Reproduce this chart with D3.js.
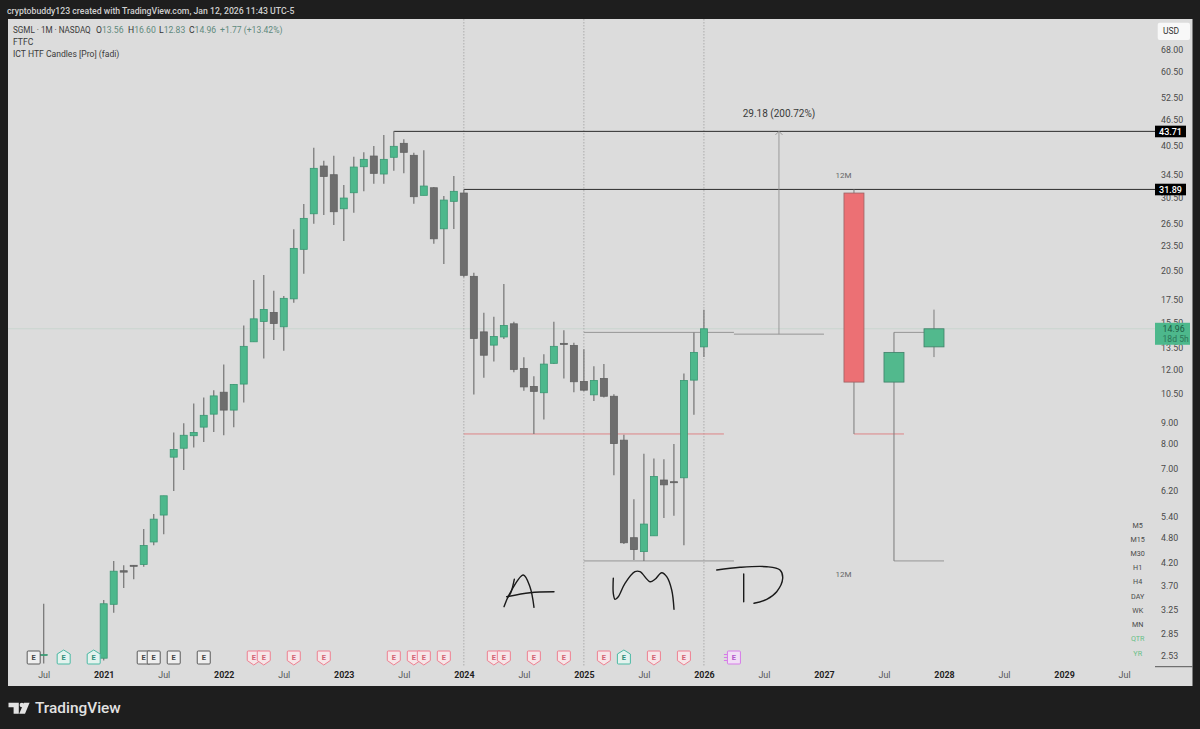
<!DOCTYPE html>
<html><head><meta charset="utf-8">
<style>
html,body{margin:0;padding:0;background:#1e1e1e;overflow:hidden}
svg{display:block}
text{font-family:Roboto,"Open Sans",sans-serif}
</style>
<script src="https://cdn.jsdelivr.net/npm/d3@7"></script>
</head><body><svg id="c" width="1200" height="729"></svg>
<script>
// ---------- DATA ----------
const months = [-6].concat(d3.range(0, 61)); // months since Jan 2021
const opens  = [2.55, 2.50,3.35,4.02,4.14,4.16,4.70,5.44,7.45,7.82,8.37,8.77,9.41, 10.60,9.62,11.08,13.94,15.57,16.35,15.12,17.60,23.03,27.94,36.21,34.54, 28.71,31.32,36.07,38.23,34.67,37.97,40.96,38.38,30.88,32.18,25.75,29.89, 31.27,19.89,14.71,13.69,14.31,15.37,12.06,10.94,10.57,12.40,13.82,13.67, 11.24,10.45,11.42,10.37,8.17,4.81,4.46,4.86,6.58,6.52,6.66,11.32, 13.56];
const highs  = [3.36, 3.43,4.24,4.14,4.15,5.04,5.47,6.04,8.52,8.95,9.97,10.30,10.72, 12.33,11.08,15.23,19.49,20.03,18.39,17.87,25.67,29.45,39.99,37.27,38.30, 32.66,38.09,39.01,40.36,42.85,43.71,41.86,38.93,39.44,32.30,30.76,34.29, 31.89,20.28,16.33,15.97,19.07,15.54,12.81,11.56,13.03,15.54,14.85,13.87, 13.39,12.21,12.35,10.49,8.41,5.93,7.59,7.40,7.37,8.00,11.74,14.67, 16.60];
const lows   = [2.43, 2.47,3.20,3.66,3.84,4.11,4.62,4.90,6.20,6.95,7.85,8.09,8.54, 8.39,8.76,10.02,13.94,12.73,14.07,13.27,17.23,20.17,26.46,27.75,26.28, 24.09,28.10,31.56,32.89,32.89,35.29,34.80,29.50,30.88,23.74,21.26,25.71, 19.78,10.47,11.46,12.53,14.16,11.82,10.68,8.45,9.14,12.35,11.42,10.60, 10.66,10.11,10.30,6.75,4.65,4.26,4.24,4.86,5.35,5.42,4.62,9.38, 12.83];
const closes = [2.55, 3.36,4.01,3.99,4.12,4.61,5.32,6.04,7.77,8.39,8.52,9.35,10.39, 9.62,11.06,13.60,15.79,16.62,15.40,17.65,23.15,27.25,35.76,34.23,28.25, 30.43,36.01,37.55,34.80,37.55,40.30,39.01,30.65,32.48,24.39,30.10,31.56, 20.00,14.20,12.96,14.35,15.23,12.00,10.91,10.65,12.35,13.60,13.77,11.22, 10.72,11.30,10.37,8.02,4.68,4.51,5.18,6.71,6.41,6.49,11.30,13.16, 14.96];

const htfMonths = [75, 79, 83];
const htfOpens  = [31.27, 11.20, 13.56];
const htfHighs  = [31.89, 14.67, 16.60];
const htfLows   = [8.45, 4.24, 12.83];
const htfCloses = [11.20, 13.16, 14.96];

const priceTicks = [68,60.5,52.5,46.5,40.5,34.5,30.5,26.5,23.5,20.5,17.5,15.5,13.5,12,10.5,9,8,7,6.2,5.4,4.8,4.2,3.7,3.25,2.85,2.53];
const timeTicks  = d3.range(-6, 103, 6);
const timeLabels = ["Jul","2021","Jul","2022","Jul","2023","Jul","2024","Jul","2025","Jul","2026","Jul","2027","Jul","2028","Jul","2029","Jul"];

const sessionMonths = [36, 48, 60];
const levelFrom = [48, 63, 36, 75, 48, 79, 79];
const levelTo   = [63, 72, 62, 80, 63, 84, 83];
const levelVal  = [14.67, 14.53, 8.45, 8.45, 4.24, 4.24, 14.67];
const levelKind = ["gray","gray","red","red","gray","gray","gray"];

const extremes = [43.71, 31.89];
const extremeFrom = [29, 36];
const lastPrice = 14.96;
const countdown = "18d 5h";

const measure = {month: 67.5, from: 14.53, to: 43.71, label: "29.18 (200.72%)"};

const earningsNeutral = [-7, 4, 5, 7, 10];
const earningsBeat    = [-4, -1, 52];
const earningsMiss    = [15, 16, 19, 22, 29, 31, 32, 34, 39, 40, 43, 46, 50, 55, 58];
const earningsNext    = [63];

const timeframes = ["M5","M15","M30","H1","H4","DAY","WK","MN","QTR","YR"];

const titleText = "cryptobuddy123 created with TradingView.com, Jan 12, 2026 11:43 UTC-5";
const legendOHLC = [["O","13.56"],["H","16.60"],["L","12.83"],["C","14.96"]];

// ---------- LAYOUT ----------
const pane = {l: 8, t: 19, r: 1192.5, b: 686};
const axisX = 1155, axisY = 666.7;
const C = {bg:"#1e1e1e", pane:"#dcdcdc", up:"#4db88c", upB:"#3a9873", dn:"#6e6e6e", wick:"#7b7b7b",
           red:"#ec7074", redB:"#9b6264", lvl:"#969696", redLvl:"#dd8587", black:"#2b2b2b"};

const x = d3.scaleLinear().domain([0, 84]).range([103.7, 944]);
const y = d3.scaleLog().domain([68, 2.53]).range([50, 656]);
const mw = x(1) - x(0);

const svg = d3.select("#c");
svg.append("rect").attr("width",1200).attr("height",729).attr("fill",C.bg);
svg.append("rect").attr("x",pane.l).attr("y",pane.t).attr("width",pane.r-pane.l).attr("height",pane.b-pane.t).attr("fill",C.pane);

// title
svg.append("text").attr("x",7).attr("y",14).attr("fill","#cfcfcf").style("font-size","8.7px").style("font-weight",500).text(titleText);

// price line
svg.append("line").attr("x1",pane.l).attr("x2",axisX).attr("y1",y(lastPrice)).attr("y2",y(lastPrice)).attr("stroke","#c9d5cf");

// session separators
svg.selectAll("line.sep").data(sessionMonths).join("line").attr("class","sep")
  .attr("x1",d=>x(d)).attr("x2",d=>x(d)).attr("y1",pane.t).attr("y2",axisY)
  .attr("stroke","#adadad").attr("stroke-dasharray","1.5 1.5");

// levels
svg.selectAll("line.lvl").data(levelVal).join("line").attr("class","lvl")
  .attr("x1",(d,i)=>x(levelFrom[i])).attr("x2",(d,i)=>x(levelTo[i]))
  .attr("y1",d=>y(d)).attr("y2",d=>y(d))
  .attr("stroke",(d,i)=>levelKind[i]==="red"?C.redLvl:C.lvl).attr("stroke-width",1);

// extreme levels
svg.selectAll("line.ext").data(extremes).join("line").attr("class","ext")
  .attr("x1",(d,i)=>x(extremeFrom[i])).attr("x2",axisX)
  .attr("y1",d=>y(d)).attr("y2",d=>y(d)).attr("stroke",C.black).attr("stroke-width",1);

// measure arrow
const mx = x(measure.month);
svg.append("line").attr("x1",mx).attr("x2",mx).attr("y1",y(measure.from)).attr("y2",y(measure.to)).attr("stroke","#929292").attr("stroke-width",0.9);
svg.append("path").attr("d",d3.line()([[mx-3.5,y(measure.to)+3.5],[mx,y(measure.to)],[mx+3.5,y(measure.to)+3.5]])).attr("fill","none").attr("stroke","#929292").attr("stroke-width",0.9);
svg.append("text").attr("x",mx).attr("y",y(measure.to)-14).attr("text-anchor","middle").attr("fill","#3a3a3a").style("font-size","10px").text(measure.label);

// candles
function drawCandles(cls, ms, o, h, l, c, bw, wickW, fills, strokes){
  const g = svg.append("g").attr("class",cls);
  g.selectAll("line").data(ms).join("line")
    .attr("x1",d=>x(d)).attr("x2",d=>x(d))
    .attr("y1",(d,i)=>y(h[i])).attr("y2",(d,i)=>y(l[i]))
    .attr("stroke",C.wick).attr("stroke-width",wickW);
  g.selectAll("rect").data(ms).join("rect")
    .attr("x",d=>x(d)-bw/2).attr("width",bw)
    .attr("y",(d,i)=>Math.min(y(o[i]),y(c[i])))
    .attr("height",(d,i)=>Math.max(1,Math.abs(y(o[i])-y(c[i]))))
    .attr("fill",(d,i)=>fills(c[i]>=o[i]))
    .attr("stroke",(d,i)=>strokes(c[i]>=o[i])).attr("stroke-width",0.8);
}
drawCandles("m", months, opens, highs, lows, closes, mw*0.7, 1.3,
  up=>up?C.up:C.dn, up=>up?C.upB:"#626262");
drawCandles("htf", htfMonths, htfOpens, htfHighs, htfLows, htfCloses, mw*2, 1,
  up=>up?"#52b98d":C.red, up=>up?"#3f7f68":C.redB);

// 12M labels
[[htfHighs[0],-14.5],[htfLows[1],13]].forEach(([v,dy])=>{
  svg.append("text").attr("x",x(htfMonths[0])-10.5).attr("y",y(v)+dy+3).attr("text-anchor","middle")
     .attr("fill","#666").style("font-size","8px").text("12M");
});

// hand drawing
const hand = d3.line().curve(d3.curveCatmullRom.alpha(0.5));
const strokes = [
 [[504,606.7],[510,593],[523.3,575],[530,587],[534,607.3]],
 [[514.3,579.3],[510.7,593],[508,597]],
 [[506.7,596.7],[530,592.7],[554,591.7]],
 [[613.3,578.3],[613.3,593.3],[615,599.3],[618.3,596.7],[625,583.3],[635,571.7],[640,571.7],[650,581.7],[655,579.3],[661.7,572.7],[666.7,576.7],[671.7,590],[674,609.3]],
 [[716.7,570],[740,567.3],[766.7,566.7],[780,570],[782.7,578.3],[776.7,591.7],[766.7,599.3],[754,603.3]],
 [[743.7,574],[743.7,601.7]]
];
svg.selectAll("path.hand").data(strokes).join("path").attr("class","hand")
  .attr("d",hand).attr("fill","none").attr("stroke","#1a1a1a").attr("stroke-width",1.4).attr("stroke-linecap","round");

// earnings badges
function badge(xc, kind){
  const yc = 657.5, w = 6.5, h = 6.5;
  const xx = x(xc);
  const g = svg.append("g");
  let d, st, fl, tc;
  const sq = `M${xx-w+1},${yc-h}H${xx+w-1}Q${xx+w},${yc-h} ${xx+w},${yc-h+1}V${yc+h-1}Q${xx+w},${yc+h} ${xx+w-1},${yc+h}H${xx-w+1}Q${xx-w},${yc+h} ${xx-w},${yc+h-1}V${yc-h+1}Q${xx-w},${yc-h} ${xx-w+1},${yc-h}Z`;
  if(kind==="n"){ d=sq; st="#5a5a5a"; fl="#efefef"; tc="#444"; }
  if(kind==="b"){ d=`M${xx},${yc-h-1}L${xx+w},${yc-h+3}V${yc+h-1}Q${xx+w},${yc+h} ${xx+w-1},${yc+h}H${xx-w+1}Q${xx-w},${yc+h} ${xx-w},${yc+h-1}V${yc-h+3}Z`; st="#4ab9a4"; fl="#e3f3ee"; tc="#2e8f7c"; }
  if(kind==="m"){ d=`M${xx-w+1},${yc-h}H${xx+w-1}Q${xx+w},${yc-h} ${xx+w},${yc-h+1}V${yc+h-3.5}L${xx},${yc+h+1}L${xx-w},${yc+h-3.5}V${yc-h+1}Q${xx-w},${yc-h} ${xx-w+1},${yc-h}Z`; st="#ef7f90"; fl="#f6e6e8"; tc="#d35f72"; }
  if(kind==="f"){ d=sq; st="#d67be8"; fl="#f1def5"; tc="#b455cc";
    [-3,0,3].forEach(o=>g.append("line").attr("x1",xx-w-3.5).attr("x2",xx-w).attr("y1",yc+o).attr("y2",yc+o).attr("stroke",st)); }
  g.append("path").attr("d",d).attr("fill",fl).attr("stroke",st).attr("stroke-width",1);
  g.append("text").attr("x",xx).attr("y",yc+2.6).attr("text-anchor","middle").attr("fill",tc).style("font-size","7.5px").style("font-weight",700).text("E");
}
earningsNeutral.forEach(d=>badge(d,"n"));
earningsBeat.forEach(d=>badge(d,"b"));
earningsMiss.forEach(d=>badge(d,"m"));
earningsNext.forEach(d=>badge(d,"f"));

// time axis
const xAxis = d3.axisBottom(x).tickValues(timeTicks).tickSize(0).tickPadding(0)
  .tickFormat((d,i)=>timeLabels[i]);
const gx = svg.append("g").attr("transform",`translate(0,${axisY+5.3})`).call(xAxis);
gx.select(".domain").remove();
gx.selectAll("text").attr("dy","0.71em").style("font-family","Roboto,sans-serif")
  .style("font-size","8.9px")
  .attr("fill",(d,i)=>timeLabels[i]==="Jul"?"#555":"#1f1f1f")
  .style("font-weight",(d,i)=>timeLabels[i]==="Jul"?400:700);

// price axis
const yAxis = d3.axisRight(y).tickValues(priceTicks).tickSize(0).tickPadding(0).tickFormat(d3.format(".2f"));
const gy = svg.append("g").attr("transform","translate(1161,0)").call(yAxis);
gy.select(".domain").remove();
gy.selectAll("text").style("font-family","Roboto,sans-serif").style("font-size","8.8px").attr("fill","#4a4a4a");
svg.append("line").attr("x1",axisX).attr("x2",pane.r).attr("y1",axisY).attr("y2",axisY).attr("stroke","#555");

// USD button
svg.append("rect").attr("x",1157.7).attr("y",22.7).attr("width",32.3).attr("height",17.3).attr("rx",2).attr("fill","#f8f8f8");
svg.append("text").attr("x",1171).attr("y",34.3).attr("text-anchor","middle").attr("fill","#333").style("font-size","8.5px").text("USD");

// price labels
extremes.forEach(v=>{
  svg.append("rect").attr("x",axisX).attr("y",y(v)-5.7).attr("width",31).attr("height",11.6).attr("fill","#000");
  svg.append("text").attr("x",axisX+15.5).attr("y",y(v)+3.2).attr("text-anchor","middle").attr("fill","#fff").style("font-weight",500).style("font-size","9px").text(d3.format(".2f")(v));
});
svg.append("rect").attr("x",axisX).attr("y",y(lastPrice)-6).attr("width",35).attr("height",22).attr("fill","#4db88c");
svg.append("text").attr("x",1162.5).attr("y",y(lastPrice)+3.3).attr("fill","#1c5c44").style("font-size","8.8px").text(d3.format(".2f")(lastPrice));
svg.append("text").attr("x",1162.5).attr("y",y(lastPrice)+13.4).attr("fill","#2c7558").style("font-size","8.6px").text(countdown);

// timeframe list
const tfY = d3.scalePoint().domain(timeframes).range([525,653]);
svg.selectAll("text.tf").data(timeframes).join("text").attr("class","tf")
  .attr("x",1137.7).attr("y",d=>tfY(d)+2.5).attr("text-anchor","middle")
  .attr("fill",d=>(d==="QTR"||d==="YR")?"#67c088":"#4a4a4a").style("font-size","7.2px").text(d=>d);

// legend
const legFont = "8.6px", valC = "#5f8a7d";
svg.append("text").attr("x",13).attr("y",33).attr("fill","#3a3a3a").style("font-size",legFont)
  .attr("textLength",77.7).attr("lengthAdjust","spacingAndGlyphs").text("SGML · 1M · NASDAQ");
const legX = [96, 128, 159, 189];
legendOHLC.forEach(([k,v],i)=>{
  const t = svg.append("text").attr("x",legX[i]).attr("y",33).style("font-size",legFont).attr("fill","#333");
  t.append("tspan").text(k);
  t.append("tspan").attr("fill",valC).text(v);
});
svg.append("text").attr("x",220).attr("y",33).attr("fill",valC).style("font-size",legFont).text("+1.77 (+13.42%)");
svg.append("text").attr("x",13).attr("y",45).attr("fill","#3a3a3a").style("font-size",legFont).text("FTFC");
svg.append("text").attr("x",13).attr("y",57).attr("fill","#3a3a3a").style("font-size",legFont).text("ICT HTF Candles [Pro] (fadi)");

// footer logo
const lf = svg.append("g").attr("fill","#e2e2e2");
lf.append("path").attr("d","M8.5 702.7H18.8V713.8H13.6V707.2H8.5Z");
lf.append("circle").attr("cx",21.9).attr("cy",705).attr("r",2.3);
lf.append("path").attr("d","M24 702.7H29.6L25 713.8H19.2Z");
svg.append("text").attr("x",35).attr("y",713.3).attr("fill","#e2e2e2").style("font-size","15.4px").style("font-weight",500).text("TradingView");
</script></body></html>
